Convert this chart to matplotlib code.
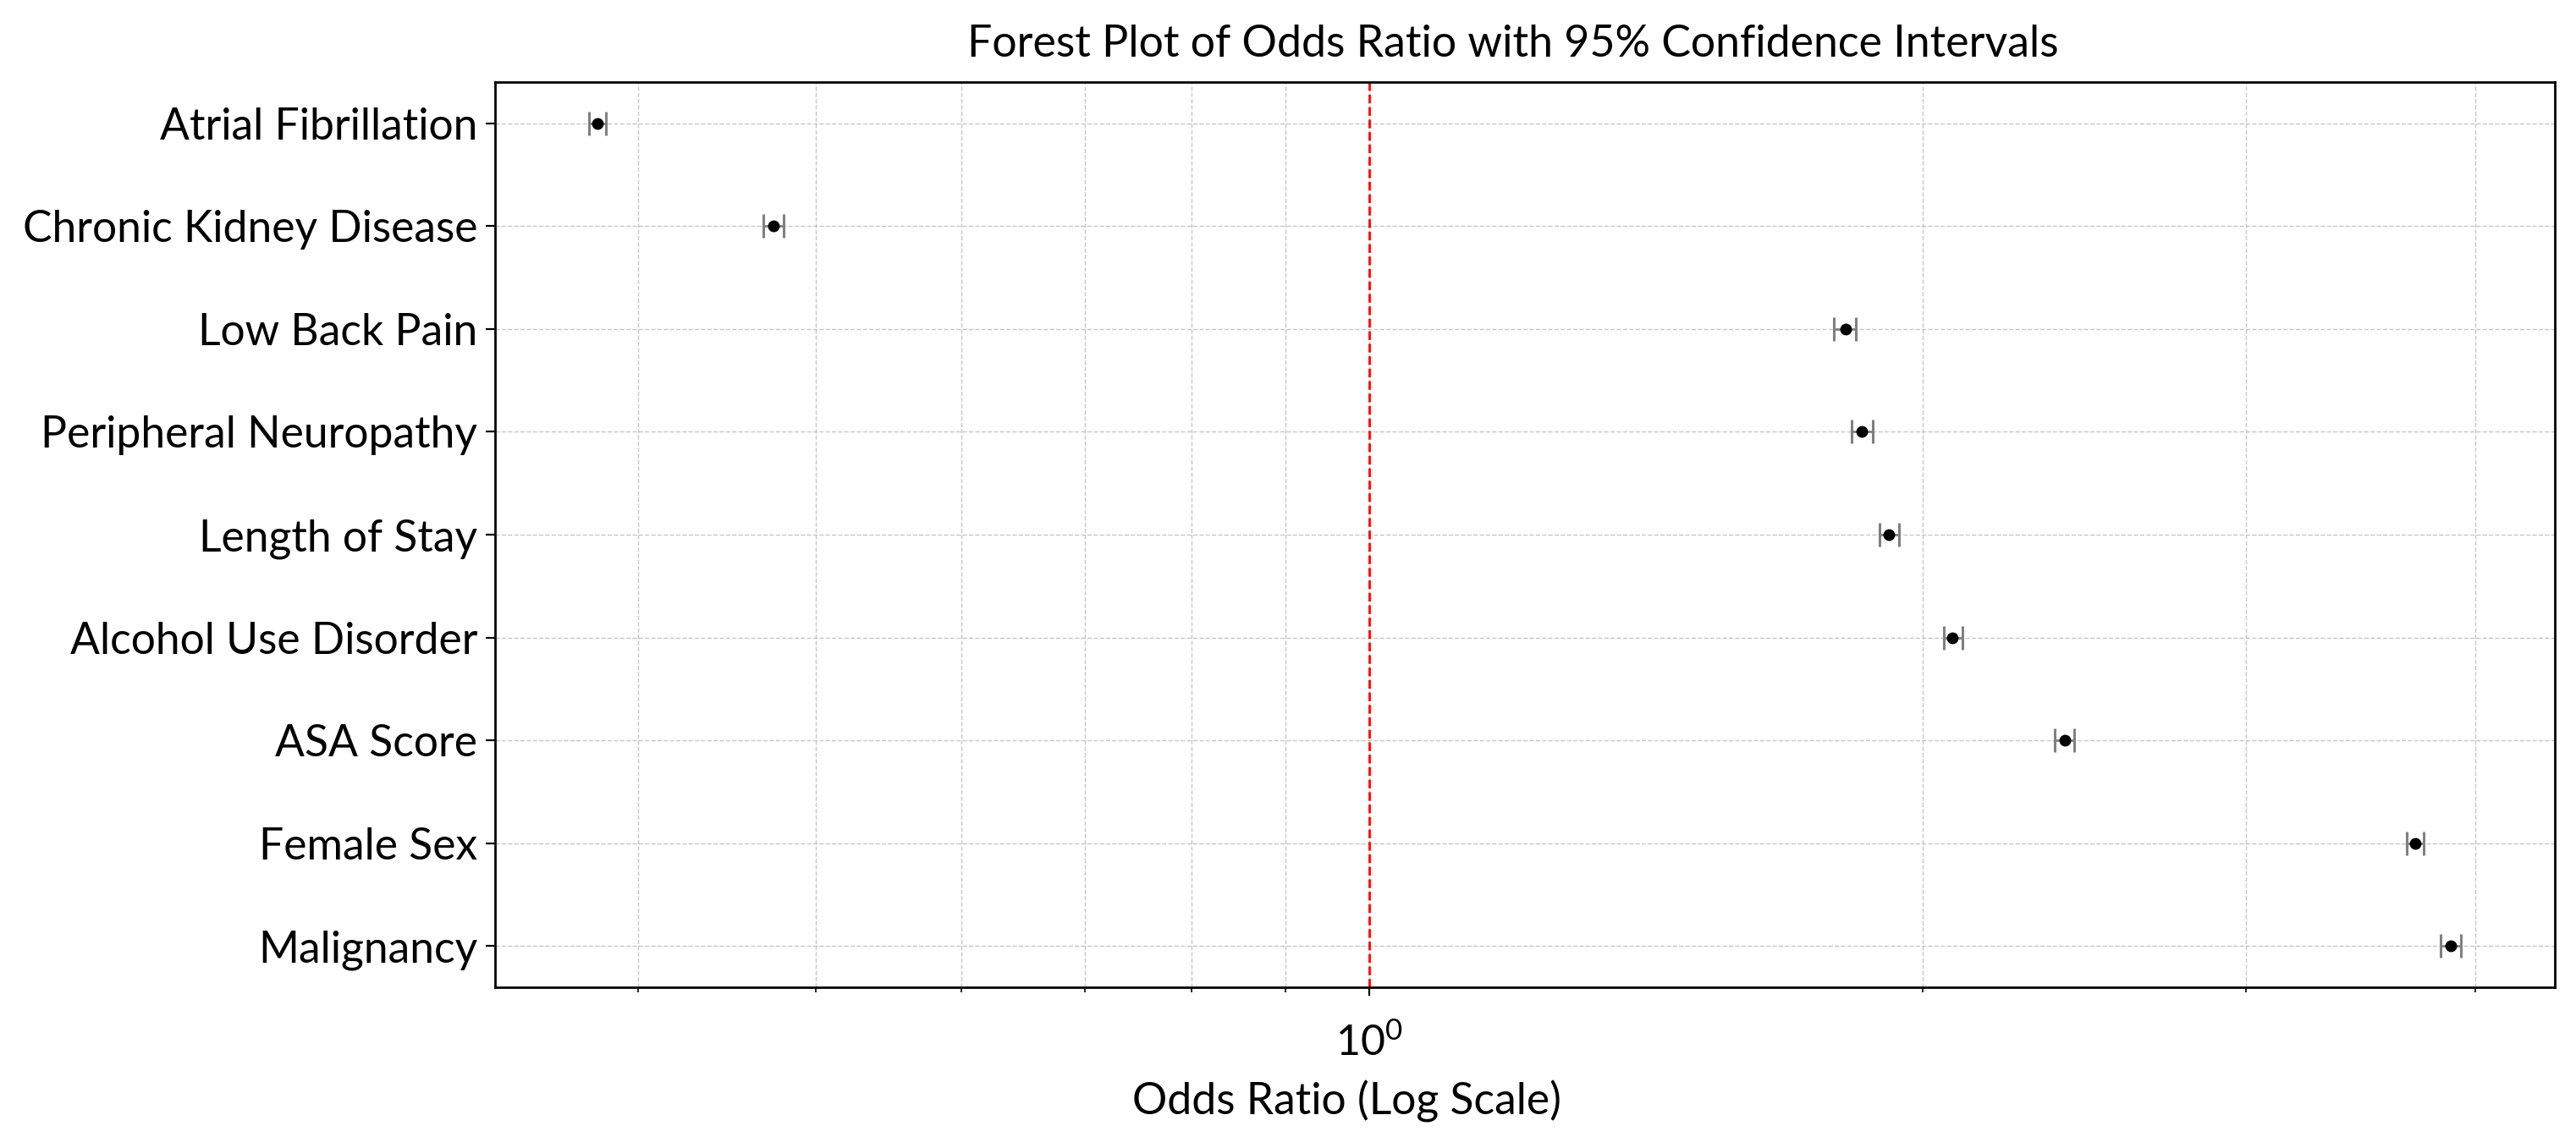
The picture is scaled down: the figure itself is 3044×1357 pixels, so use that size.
#forest plot of odds ratios with 95% CI
import numpy as np
import matplotlib.pyplot as plt

plt.rcParams['font.family'] = ['Lato', 'DejaVu Sans']
plt.rcParams['mathtext.fontset'] = 'custom'
plt.rcParams['mathtext.rm'] = 'Lato'
plt.rcParams['mathtext.it'] = 'Lato:italic'

variables = ['Atrial Fibrillation', 'Chronic Kidney Disease', 'Low Back Pain',
             'Peripheral Neuropathy', 'Length of Stay', 'Alcohol Use Disorder',
             'ASA Score', 'Female Sex', 'Malignancy']
odds_ratio = [0.380, 0.474, 1.816, 1.853, 1.918, 2.076, 2.391, 3.71, 3.88]
ci_lower = [0.376, 0.468, 1.790, 1.830, 1.895, 2.054, 2.360, 3.67, 3.83]
ci_upper = [0.384, 0.480, 1.840, 1.880, 1.942, 2.104, 2.420, 3.75, 3.93]

odds_ratio = np.array(odds_ratio)
err = [odds_ratio - np.array(ci_lower), np.array(ci_upper) - odds_ratio]
y = np.arange(len(variables))

fig = plt.figure(figsize=(15.22, 6.785), dpi=200)
ax = fig.add_axes([0.1922, 0.1400, 0.7996, 0.7885])

ax.errorbar(odds_ratio, y, xerr=err, fmt='o', color='black', ecolor='gray',
            markersize=4, capsize=5, elinewidth=1, capthick=1.1)
ax.axvline(1, color='red', linestyle='--', linewidth=1)

ax.set_xscale('log')
ax.set_yticks(y)
ax.set_yticklabels(variables)
ax.invert_yaxis()

for s in ax.spines.values():
    s.set_linewidth(1.0)

ax.tick_params(axis='y', labelsize=18.6, length=4)
ax.tick_params(axis='x', labelsize=18, pad=12)
ax.grid(True, which='both', linestyle='--', linewidth=0.5, alpha=0.7)

ax.set_title('Forest Plot of Odds Ratio with 95% Confidence Intervals',
             fontsize=18.7, x=0.494, pad=10.8)
ax.set_xlabel('Odds Ratio (Log Scale)', fontsize=18.6, x=0.4137, ha='center', labelpad=7)

plt.savefig('out.png', dpi=200)
